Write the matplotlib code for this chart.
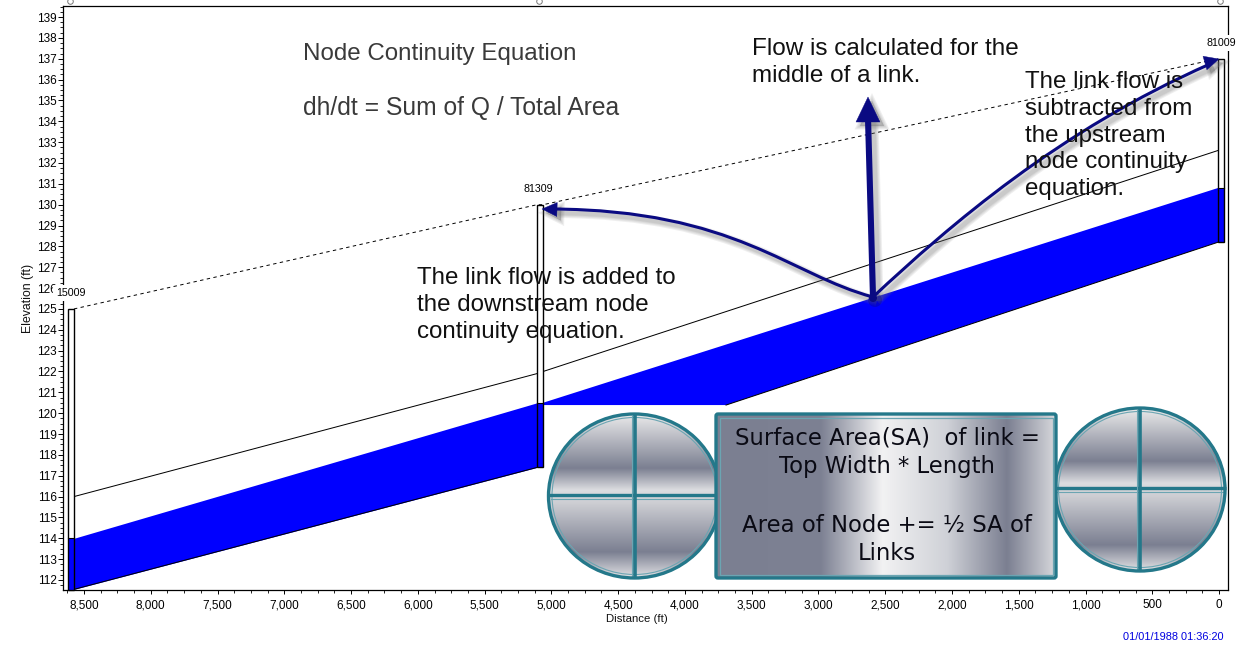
import numpy as np
from matplotlib import pyplot as plt
from matplotlib.colors import LinearSegmentedColormap
from matplotlib.patches import Circle, Ellipse, FancyBboxPatch, PathPatch, Polygon, Rectangle
from matplotlib.path import Path
from matplotlib.ticker import FuncFormatter, MultipleLocator

plt.rcParams['font.family'] = ['Liberation Sans', 'DejaVu Sans']

W, H = 1251, 649

# Nodes: name, left distance, right distance, top, bottom, water level
node_names = ['15009', '81309', '81009']
node_left = [8620, 5107, 8]
node_right = [8575, 5062, -37]
node_top = [125.0, 130.0, 137.0]
node_bottom = [111.52, 117.4, 128.2]
node_water = [114.0, 120.5, 130.8]

# Ground and crown profile
ground_x = [8575, 5107, 5062, 8]
ground_y = [125.0, 130.0, 130.0, 137.0]
crown_left_x = [8575, 5107]
crown_left_y = [116.0, 121.9]
crown_right_x = [5062, 8]
crown_right_y = [122.0, 132.6]

# Water in the links
left_top = [114.0, 120.5]
left_invert = [111.55, 117.4]
right_x = [5062, 8, 8, 3692, 5062]
right_y = [120.5, 130.8, 128.2, 120.39, 120.39]
right_invert_x = [3692, 8]
right_invert_y = [120.39, 128.2]

x_ticks = list(range(0, 8501, 500))
y_ticks = list(range(112, 140))

NAVY = '#0a0a82'
TEAL = '#24788a'
THIN = '#6ba5b2'
BLUE = '#0000ff'

fig = plt.figure(figsize=(W / 100, H / 100), dpi=100)
ax = fig.add_axes([63 / W, 1 - 590 / H, (1228 - 63) / W, (590 - 6) / H])
ax.set_xlim(8657, -67)
ax.set_ylim(111.52, 139.53)

# Links
ax.fill_between(crown_left_x, left_top, left_invert, color=BLUE, lw=0, zorder=2)
ax.fill(right_x, right_y, color=BLUE, lw=0, zorder=2)
ax.plot(crown_left_x, left_invert, color='black', lw=0.72, zorder=2)
ax.plot(right_invert_x, right_invert_y, color='black', lw=0.72, zorder=2)

ax.plot(ground_x, ground_y, color='black', lw=0.7, dashes=(3.5, 3.5), zorder=3)
ax.plot(crown_left_x, crown_left_y, color='black', lw=0.72, zorder=3)
ax.plot(crown_right_x, crown_right_y, color='black', lw=0.72, zorder=3)

# Nodes
for i in range(len(node_names)):
    width = node_left[i] - node_right[i]
    ax.add_patch(Rectangle((node_right[i], node_bottom[i]), width, node_top[i] - node_bottom[i],
                           facecolor='white', edgecolor='none', zorder=4, clip_on=False))
    ax.add_patch(Rectangle((node_right[i], node_bottom[i]), width, node_water[i] - node_bottom[i],
                           facecolor=BLUE, edgecolor='none', zorder=4, clip_on=False))
    ax.add_patch(Rectangle((node_right[i], node_bottom[i]), width, node_top[i] - node_bottom[i],
                           facecolor='none', edgecolor='black', lw=1.0, zorder=5, clip_on=False))
    ax.plot([node_right[i], node_left[i]], [node_water[i], node_water[i]], color='black', lw=0.8, zorder=5)

ax.xaxis.set_minor_locator(MultipleLocator(125))
ax.yaxis.set_minor_locator(MultipleLocator(0.25))
ax.set_xticks(x_ticks)
ax.set_yticks(y_ticks)
ax.xaxis.set_major_formatter(FuncFormatter(lambda v, p: f'{int(v):,}'))
ax.tick_params(which='major', axis='y', length=3.6, width=0.7, labelsize=8.5, pad=1)
ax.tick_params(which='major', axis='x', length=3, width=0.7, labelsize=8.5, pad=10)
ax.tick_params(which='minor', length=2, width=0.6)
for lab in ax.get_xticklabels():
    lab.set_verticalalignment('baseline')
for spine in ax.spines.values():
    spine.set_linewidth(0.9)

# Pasted drawing layer, in pixels of the screenshot
ov = fig.add_axes([0, 0, 1, 1], facecolor='none')
ov.set_axis_off()


def gradient(box, stops, vertical, clip, z=6):
    cmap = LinearSegmentedColormap.from_list('g', stops)
    ramp = np.linspace(0, 1, 256).reshape(-1, 1) if vertical else np.linspace(0, 1, 256).reshape(1, -1)
    im = ov.imshow(ramp, cmap=cmap, extent=(box[0], box[1], box[3], box[2]), origin='upper',
                   aspect='auto', interpolation='bilinear', zorder=z)
    im.set_clip_path(clip)


def culvert(cx, cy, rx, ry, hy, vx, top, bottom):
    span = bottom - top
    dark1 = (hy - 27 - top) / span
    light = (hy - 5 - top) / span
    mid = (hy + 8 - top) / span
    dark2 = (hy + 57 - top) / span
    stops = [(0, '#ececec'), (dark1, '#7b7f91'), (light, '#dcdde0'), (mid, '#cdced3'),
             (dark2, '#7b7f91'), (1, '#e6e6e8')]
    clip = Ellipse((cx, cy), 2 * rx, 2 * ry, transform=ov.transData, facecolor='none', edgecolor='none')
    ov.add_patch(clip)
    gradient((cx - rx, cx + rx, top, bottom), stops, True, clip)
    ov.add_patch(Ellipse((cx, cy), 2 * rx - 9, 2 * ry - 9, facecolor='none', edgecolor=THIN, lw=0.8, zorder=7))
    ov.plot([cx - rx, cx + rx], [hy, hy], color=TEAL, lw=2.4, zorder=7, solid_capstyle='butt')
    ov.plot([cx - rx + 3, cx + rx - 3], [hy + 3.5, hy + 3.5], color=THIN, lw=0.8, zorder=7)
    ov.plot([vx, vx], [top, bottom], color=TEAL, lw=2.6, zorder=7, solid_capstyle='butt')
    ov.plot([vx - 3.5, vx - 3.5], [top + 3, bottom - 3], color=THIN, lw=0.8, zorder=7)
    ov.add_patch(Ellipse((cx, cy), 2 * rx - 2, 2 * ry - 2, facecolor='none', edgecolor=TEAL, lw=2.4, zorder=8))


def arrow(verts, codes, lw, tip, base, half):
    # Soft shadow first
    path = Path(verts, codes)
    d = np.array(tip, float) - np.array(base, float)
    n = np.array([-d[1], d[0]]) / np.hypot(*d) * half
    head = np.array([tip, np.array(base) + n, np.array(base) - n])
    for grow in [5, 3.5, 2, 0.8]:
        shifted = Path(np.array(verts, float) + [4, 4], codes)
        ov.add_patch(PathPatch(shifted, facecolor='none', edgecolor='#707070', alpha=0.11, lw=lw + grow, zorder=9))
        ov.add_patch(Polygon(head + [4, 4], closed=True, facecolor='#707070', edgecolor='#707070',
                             alpha=0.11, lw=grow, zorder=9))
    ov.add_patch(PathPatch(path, facecolor='none', edgecolor=NAVY, lw=lw, zorder=10, capstyle='round'))
    ov.add_patch(Polygon(head, closed=True, facecolor=NAVY, edgecolor=NAVY, lw=0.3, zorder=10))


culvert(634.5, 496, 87, 83, 495, 635, 413, 579)
culvert(1140, 489.5, 86, 82.5, 488, 1140, 407, 572)

# Middle box, on top of both culverts
box_clip = FancyBboxPatch((715, 413), 342, 166, boxstyle='round,pad=0,rounding_size=2',
                          facecolor='none', edgecolor='none', transform=ov.transData)
ov.add_patch(box_clip)
box_stops = [(0, '#7b7f91'), (0.31, '#7d8193'), (0.49, '#f2f2f3'), (0.68, '#cfd1d7'),
             (0.855, '#7b7f91'), (1, '#d8d9dd')]
gradient((715, 1057, 413, 579), box_stops, False, box_clip, z=8.2)
ov.add_patch(Rectangle((719.5, 417.5), 333, 157, facecolor='none', edgecolor=THIN, lw=0.9, zorder=8.3))
ov.add_patch(FancyBboxPatch((716, 414), 340, 164, boxstyle='round,pad=0,rounding_size=2',
                            facecolor='none', edgecolor=TEAL, lw=2.4, zorder=8.4))

box_lines = ['Surface Area(SA)  of link =', 'Top Width * Length', 'Area of Node += ½ SA of', 'Links']
box_line_y = [438, 467, 525, 554]
for line, y in zip(box_lines, box_line_y):
    ov.text(887, y, line, ha='center', va='center', fontsize=16.4, color='#0a0a14',
            family='DejaVu Sans', zorder=11)

# Arrows
curve4 = [Path.MOVETO, Path.CURVE4, Path.CURVE4, Path.CURVE4]
arrow([(873, 297), (790, 275), (735, 210), (552, 209)], curve4, 2.2, (542, 209), (557, 209.5), 7)
arrow([(873, 297), (950, 225), (1060, 130), (1210, 64)], curve4, 2.2, (1219, 59), (1205, 63), 7)
arrow([(873, 297), (868, 118)], [Path.MOVETO, Path.LINETO], 4.4, (868, 97), (868, 122), 12)
ov.add_patch(Circle((875, 300), 7, facecolor=NAVY, edgecolor='none', alpha=0.35, zorder=9))
ov.add_patch(Circle((873, 298), 4, facecolor=NAVY, edgecolor='none', zorder=10))

# Annotation texts
notes = [
    ('Node Continuity Equation', 303, 54, '#3a3a3a', 17.4),
    ('dh/dt = Sum of Q / Total Area', 303, 108, '#3a3a3a', 17.75),
    ('Flow is calculated for the', 752, 49, '#111111', 17.5),
    ('middle of a link.', 752, 76, '#111111', 17.5),
    ('The link flow is', 1025, 82, '#111111', 17.4),
    ('subtracted from', 1025, 109, '#111111', 17.4),
    ('the upstream', 1025, 136, '#111111', 17.4),
    ('node continuity', 1025, 162, '#111111', 17.4),
    ('equation.', 1025, 189, '#111111', 17.4),
    ('The link flow is added to', 417, 278, '#111111', 17.4),
    ('the downstream node', 417, 305, '#111111', 17.4),
    ('continuity equation.', 417, 332, '#111111', 17.4),
]
for txt, x, y, col, size in notes:
    ov.text(x, y, txt, ha='left', va='center', fontsize=size, color=col, zorder=11)

# Node labels sit on white and hide what is under them
label_xy = [(71, 293), (538, 189), (1221, 43)]
for name, (x, y) in zip(node_names, label_xy):
    ov.text(x, y, name, ha='center', va='center', fontsize=7.7, color='black', zorder=11,
            bbox=dict(facecolor='white', edgecolor='none', pad=2.2))

ov.text(28, 298, 'Elevation (ft)', rotation=90, ha='center', va='center', fontsize=8.8, color='#111111')
ov.text(637, 619, 'Distance (ft)', ha='center', va='center', fontsize=8.2, color='#111111')
ov.text(1224, 637, '01/01/1988 01:36:20', ha='right', va='center', fontsize=7.95, color='#0000e0')

# Small node markers clipped by the top of the window
ov.plot([70, 539, 1220], [1, 1, 1], 'o', mfc='none', mec='#777777', ms=4, mew=0.7, zorder=3)

ov.set_xlim(0, W)
ov.set_ylim(H, 0)

fig.savefig('out.png', dpi=100)
